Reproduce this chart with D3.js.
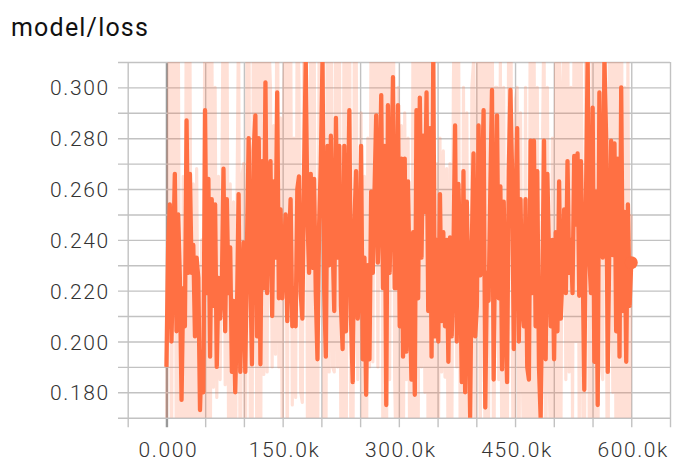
<!DOCTYPE html>
<html>
<head>
<meta charset="utf-8">
<script src="https://cdn.jsdelivr.net/npm/d3@7"></script>
<style>
  body { margin: 0; background: #fff; }
  .title { font-family: Roboto, "Liberation Sans", sans-serif; font-size: 25px; letter-spacing: 1.2px; fill: #111; }
  .axis text { font-family: Roboto, "Liberation Sans", sans-serif; font-weight: 300; font-size: 21px; letter-spacing: 1.6px; fill: #333; }
  .axis .tick line { stroke: #c2c2c2; stroke-width: 1.4; }
  .axis .domain { display: none; }
</style>
</head>
<body>
<div id="chart"></div>
<script>
// chart text + ticks
const chartTitle = 'model/loss'
const xGridSteps = [-50000, 0, 50000, 100000, 150000, 200000, 250000, 300000, 350000, 400000, 450000, 500000, 550000, 600000, 650000]
const xLabelSteps = [0, 150000, 300000, 450000, 600000]
const yGridValues = [0.17, 0.18, 0.19, 0.20, 0.21, 0.22, 0.23, 0.24, 0.25, 0.26, 0.27, 0.28, 0.29, 0.30, 0.31]
const yLabelValues = [0.18, 0.20, 0.22, 0.24, 0.26, 0.28, 0.30]

// steps are logged at a fixed interval, last one at 600k
const lastStep = 600000

// smoothed loss (dark line) left to right
const smoothed = [
  .190,.237,.254,.200,.233,.266,.204,.250,.225,.177,.221,.206,.287,.227,.266,.227,.238,.202,.233,.225,
  .173,.196,.180,.291,.219,.264,.194,.256,.214,.254,.190,.225,.209,.221,.268,.204,.256,.219,.237,.188,
  .216,.180,.210,.258,.188,.219,.239,.188,.238,.280,.225,.191,.275,.289,.202,.280,.191,.271,.221,.302,
  .219,.259,.271,.210,.263,.233,.298,.217,
  .252,.217,.233,.250,.208,.238,.256,.206,.221,.206,.260,.265,.219,.209,.266,.311,.250,.227,.266,.229,
  .264,.219,.193,.246,.270,.311,.221,.194,.277,.230,.281,.240,.212,.288,.233,.277,.214,.197,.277,.204,
  .246,.291,.209,.184,.246,.267,.209,.221,.277,.193,.233,.179,.230,.193,.259,.227,.259,.289,.231,.259,
  .297,.221,.277,.175,.293,.227,.260,.304,.221,
  .221,.293,.206,.272,.194,.272,.196,.263,.217,.185,.243,.179,.291,.217,.296,.233,.281,.251,.298,.212,
  .284,.194,.311,.202,.240,.200,.258,.208,.243,.206,.240,.192,.241,.202,.233,.285,.200,.262,.233,.184,
  .267,.180,.255,.219,.170,.239,.274,.202,.214,.285,.226,.259,.291,.174,.227,.216,.259,.299,.185,.246,
  .289,.217,.261,.189,.255,.212,.184,.267,.299,
  .266,.197,.251,.284,.200,.256,.214,.206,.256,.190,.185,.279,.219,.279,.206,.267,.190,.170,.219,.279,
  .193,.266,.233,.206,.240,.193,.243,.204,.263,.209,.226,.252,.219,.271,.227,.240,.219,.273,.246,.274,
  .218,.271,.233,.181,.255,.311,.233,.219,.292,.192,.259,.175,.298,.245,.233,.311,.281,.188,.242,.279,
  .234,.278,.204,.272,.194,.300,.212,.251,.192,.254,.214,.231
]

// raw loss (pale line behind), mostly running off the top and bottom
const raw = [
  .150,.275,.340,.140,.330,.350,.120,.335,.160,.110,.265,.150,.380,.150,.320,.140,.262,.130,.268,.190,
  .100,.240,.140,.370,.140,.340,.120,.330,.182,.300,.178,.265,.185,.250,.360,.183,.340,.170,.262,.120,
  .255,.130,.250,.330,.120,.265,.270,.130,.320,.360,.160,.140,.380,.340,.120,.370,.110,.350,.187,.390,
  .188,.320,.300,.190,.285,.195,.380,.190,
  .288,.160,.300,.330,.150,.320,.330,.175,.280,.178,.340,.300,.180,.176,.350,.400,.170,.160,.340,.150,
  .330,.150,.130,.320,.340,.400,.130,.140,.370,.188,.360,.190,.188,.370,.190,.340,.150,.140,.370,.130,
  .320,.380,.130,.120,.330,.330,.185,.240,.290,.130,.265,.110,.280,.190,.330,.192,.320,.370,.190,.320,
  .380,.150,.350,.100,.400,.185,.320,.390,.185,
  .150,.300,.150,.285,.120,.290,.185,.280,.150,.120,.340,.110,.390,.150,.380,.190,.350,.180,.390,.130,
  .370,.120,.420,.140,.270,.150,.280,.188,.275,.186,.268,.130,.270,.150,.300,.360,.190,.340,.170,.120,
  .300,.110,.290,.160,.100,.300,.310,.140,.290,.360,.150,.330,.370,.100,.320,.170,.330,.380,.110,.300,
  .300,.185,.310,.120,.300,.160,.120,.340,.380,
  .210,.120,.295,.300,.130,.290,.190,.150,.300,.120,.150,.380,.150,.340,.130,.300,.120,.100,.270,.330,
  .120,.300,.190,.150,.280,.120,.320,.150,.340,.150,.300,.320,.185,.350,.188,.300,.170,.340,.200,.340,
  .160,.350,.185,.110,.360,.420,.150,.170,.390,.110,.350,.090,.420,.190,.185,.420,.250,.100,.320,.340,
  .180,.340,.130,.350,.110,.400,.140,.300,.130,.310,.160,.250
]

const stepOf = (i, n) => i * lastStep / (n - 1)

const width = 688, height = 470
const margin = { top: 62, right: 18, bottom: 52.3, left: 127.7 }
const plotW = width - margin.left - margin.right
const plotH = height - margin.top - margin.bottom

const svg = d3.select('#chart').append('svg')
  .attr('width', width)
  .attr('height', height)

svg.append('text')
  .attr('class', 'title')
  .attr('x', 11)
  .attr('y', 36)
  .text(chartTitle)

const x = d3.scaleLinear().domain([-50000, 650000]).range([margin.left, width - margin.right])
const y = d3.scaleLinear().domain([0.17, 0.31]).range([height - margin.bottom, margin.top])

const fmtX = d => d === 0 ? '0.000' : (d / 1000).toFixed(1) + 'k'

// x grid + ticks
const xAxis = svg.append('g')
  .attr('class', 'axis x')
  .attr('transform', `translate(0,${height - margin.bottom})`)
  .call(d3.axisBottom(x)
    .tickValues(xGridSteps)
    .tickSizeInner(-plotH)
    .tickSizeOuter(0)
    .tickPadding(24)
    .tickFormat(d => xLabelSteps.includes(d) ? fmtX(d) : ''))
xAxis.selectAll('.tick line').attr('y1', 9.5)
xAxis.selectAll('.tick text').attr('dx', '0.07em')
// zero line is darker
xAxis.selectAll('.tick').filter(d => d === 0).select('line')
  .style('stroke', '#999').style('stroke-width', 2.4)

// y grid + ticks
const yAxis = svg.append('g')
  .attr('class', 'axis y')
  .attr('transform', `translate(${margin.left},0)`)
  .call(d3.axisLeft(y)
    .tickValues(yGridValues)
    .tickSizeInner(-plotW)
    .tickSizeOuter(0)
    .tickPadding(18)
    .tickFormat(d => yLabelValues.some(v => Math.abs(v - d) < 1e-9) ? d.toFixed(3) : ''))
yAxis.selectAll('.tick line').attr('x1', -9.7)
yAxis.selectAll('.tick text').attr('dy', '0.36em')

// clip the series to the plot box
svg.append('defs').append('clipPath')
  .attr('id', 'plot-clip')
  .append('rect')
  .attr('x', margin.left)
  .attr('y', margin.top)
  .attr('width', plotW)
  .attr('height', plotH)

const lineOf = n => d3.line()
  .x((d, i) => x(stepOf(i, n)))
  .y(d => y(d))

const series = svg.append('g').attr('clip-path', 'url(#plot-clip)')

series.append('path')
  .datum(raw)
  .attr('d', lineOf(raw.length))
  .attr('fill', 'none')
  .attr('stroke', '#ff7043')
  .attr('stroke-opacity', 0.22)
  .attr('stroke-width', 3.2)
  .attr('stroke-linejoin', 'round')

series.append('path')
  .datum(smoothed)
  .attr('d', lineOf(smoothed.length))
  .attr('fill', 'none')
  .attr('stroke', '#ff7043')
  .attr('stroke-width', 4.3)
  .attr('stroke-linejoin', 'round')

// last point marker
const lastI = smoothed.length - 1
svg.append('circle')
  .attr('cx', x(stepOf(lastI, smoothed.length)))
  .attr('cy', y(smoothed[lastI]))
  .attr('r', 6.5)
  .attr('fill', '#ff7043')
</script>
</body>
</html>
